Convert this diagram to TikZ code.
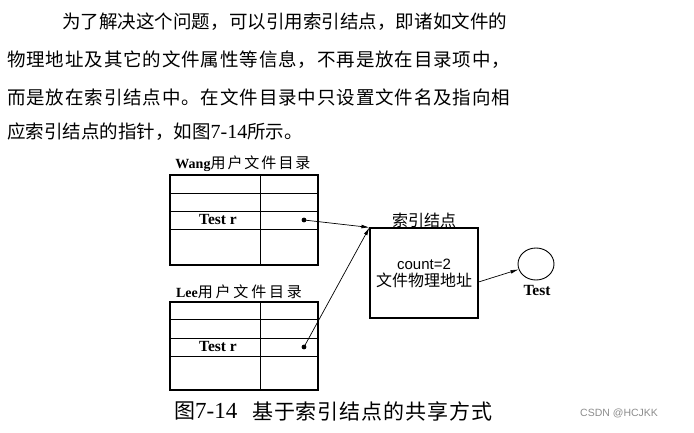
\documentclass[tikz,border=0pt]{standalone}
\usepackage{fontspec}
\setmainfont{Noto Sans CJK SC}
\newfontfamily\latin{Liberation Serif}
\newfontfamily\latsans{Liberation Sans}
\usetikzlibrary{arrows.meta,shapes.geometric}

% stretchable glue between Chinese characters
\XeTeXinterchartokenstate=1
\newXeTeXintercharclass\hanclass
\newcount\hanc
\hanc="4E00
\loop
  \XeTeXcharclass\hanc=\hanclass
  \advance\hanc by 1
\ifnum\hanc<"A000 \repeat
\XeTeXcharclass"FF0C=\hanclass
\XeTeXcharclass"3002=\hanclass
\XeTeXinterchartoks\hanclass\hanclass={\hskip 0pt plus 4pt\relax}

\tikzset{
  bodyline/.style={anchor=west, inner sep=0pt, font=\fontsize{18.5}{22}\selectfont},
  tabframe/.style={line width=1.1pt},
  tabrule/.style={line width=0.6pt},
  ptr/.style={line width=0.7pt, -{Latex[length=8pt,width=3.8pt]}},
  title/.style={font=\fontsize{15}{17}\selectfont},
  entry/.style={font=\latin\bfseries\fontsize{15.5}{17}\selectfont}
}

\begin{document}
\begin{tikzpicture}[x=1pt, y=-1pt]
  \useasboundingbox (0,0) rectangle (694,433);

  % paragraph
  \node[bodyline] (line1) at (62,22)
    {\makebox[445pt][s]{为了解决这个问题，可以引用索引结点，即诸如文件的}};
  \node[bodyline] (line2) at (7,60)
    {\makebox[503pt][s]{物理地址及其它的文件属性等信息，不再是放在目录项中，}};
  \node[bodyline] (line3) at (7,97)
    {\makebox[503pt][s]{而是放在索引结点中。在文件目录中只设置文件名及指向相}};
  \node[bodyline] (line4) at (7,132)
    {应索引结点的指针，如图{\latin\fontsize{20}{22}\selectfont 7-14}所示。};

  % Wang table
  \node[title] (wangtitle) at (243,164)
    {{\latin\bfseries\fontsize{14}{16}\selectfont Wang}\makebox[100pt][s]{用户文件目录}};
  \draw[tabframe] (170,175) rectangle (318,265);
  \draw[tabrule] (170,193) -- (318,193);
  \draw[tabrule] (170,211) -- (318,211);
  \draw[tabrule] (170,229) -- (318,229);
  \draw[tabrule] (260,175) -- (260,265);
  \node[entry] (wangname) at (218,220) {Test r};
  \coordinate (wangptr) at (304,220);

  % Lee table
  \node[title] (leetitle) at (239,292)
    {{\latin\bfseries\fontsize{14}{16}\selectfont Lee}\makebox[104pt][s]{用户文件目录}};
  \draw[tabframe] (170,302) rectangle (318,390);
  \draw[tabrule] (170,319) -- (318,319);
  \draw[tabrule] (170,338) -- (318,338);
  \draw[tabrule] (170,356) -- (318,356);
  \draw[tabrule] (260,302) -- (260,390);
  \node[entry] (leename) at (218,347) {Test r};
  \coordinate (leeptr) at (304,347);

  % index node
  \node[draw, line width=1.1pt, minimum width=108pt, minimum height=90pt,
        align=center, font=\fontsize{16}{17}\selectfont] (inode) at (424,273)
    {{\latsans\fontsize{15}{17}\selectfont count=2}\\文件物理地址};
  \node[font=\fontsize{16}{17}\selectfont] (ititle) at (424,220) {索引结点};

  % file
  \node[draw, ellipse, line width=0.9pt, minimum width=36pt, minimum height=32pt,
        inner sep=0pt] (fnode) at (536,264) {};
  \node[entry] (fname) at (537,291) {Test};

  % pointers
  \fill (wangptr) circle (2.4pt);
  \fill (leeptr) circle (2.4pt);
  \draw[ptr] (wangptr) -- (inode.north west);
  \draw[ptr] (leeptr) -- (inode.north west);
  \draw[ptr] ([yshift=-9pt]inode.east) -- (fnode);

  % caption
  \node[anchor=west, inner sep=0pt, font=\fontsize{21}{24}\selectfont] (caption) at (174,411)
    {图{\latin\fontsize{23}{24}\selectfont 7-14}};
  \node[anchor=west, inner sep=0pt, font=\fontsize{21}{24}\selectfont] (captext) at (252,411)
    {\makebox[240pt][s]{基于索引结点的共享方式}};
  \node[anchor=west, inner sep=0pt, text=black!45, font=\latsans\fontsize{10.5}{12}\selectfont]
    (mark) at (580,413) {CSDN @HCJKK};
\end{tikzpicture}
\end{document}
